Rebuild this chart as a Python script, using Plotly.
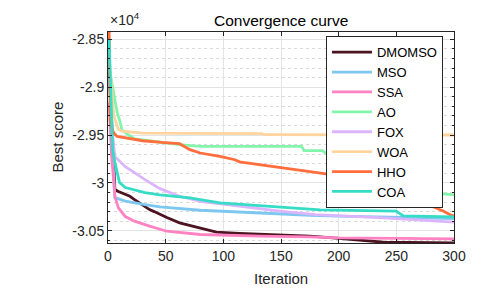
import plotly.graph_objects as go

# ---------------- data ----------------
names = ["DMOMSO", "MSO", "SSA", "AO", "FOX", "WOA", "HHO", "COA"]
colors = ["#4b1420", "#7ec8ef", "#ff82c2", "#82f5aa", "#dbb6ff", "#ffd49e", "#ff6e3c", "#36dcc6"]

dmomso_it = [1, 4, 6, 9, 19, 23, 32, 36, 40, 49, 51, 62, 80, 94, 114, 132, 149, 175, 195, 224, 239, 300]
dmomso_val = [-28800, -29500, -30070, -30090, -30140, -30174, -30247, -30279, -30300, -30352, -30362,
              -30417, -30469, -30515, -30529, -30536, -30546, -30557, -30574, -30609, -30620, -30628]

mso_it = [1, 3, 6, 15, 32, 45, 80, 114, 149, 175, 200, 239, 300]
mso_val = [-28600, -29500, -30154, -30190, -30226, -30251, -30286, -30307, -30324, -30338, -30348, -30360, -30372]

ssa_it = [1, 3, 6, 9, 15, 23, 36, 51, 80, 132, 175, 200, 300]
ssa_val = [-29160, -29700, -30143, -30261, -30352, -30400, -30452, -30505, -30539, -30557, -30563, -30574, -30585]

ao_it = [1, 4, 8, 10, 12, 15, 23, 49, 62, 80, 168, 170, 186, 200, 218, 227, 239, 250, 268, 285, 300]
ao_val = [-28790, -29000, -29270, -29341, -29445, -29476, -29540, -29580, -29601, -29619, -29619, -29664,
          -29664, -29800, -29990, -30010, -30040, -30060, -30088, -30110, -30125]

fox_it = [1, 4, 6, 15, 23, 32, 45, 62, 80, 114, 149, 180, 239, 300]
fox_val = [-28900, -29500, -29726, -29831, -29893, -29966, -30060, -30140, -30192, -30244, -30296, -30331, -30365, -30410]

woa_it = [1, 5, 9, 12, 30, 133, 136, 300]
woa_val = [-28700, -29300, -29440, -29460, -29480, -29485, -29497, -29500]

hho_it = [1, 2, 3, 5, 8, 15, 30, 49, 62, 71, 80, 97, 110, 114, 132, 145, 160, 175, 184, 200, 212, 218,
          224, 236, 244, 249, 252, 259, 263, 270, 282, 291, 297, 300]
hho_val = [-28424, -29350, -29420, -29480, -29515, -29530, -29560, -29580, -29591, -29653, -29688, -29723,
           -29758, -29780, -29810, -29827, -29855, -29880, -29896, -29925, -29960, -30001, -30018, -30053,
           -30090, -30125, -30170, -30192, -30200, -30215, -30250, -30296, -30335, -30345]

coa_it = [1, 4, 6, 10, 15, 32, 45, 71, 97, 132, 160, 184, 250, 256, 300]
coa_val = [-28500, -29654, -29789, -29997, -30049, -30101, -30125, -30157, -30209, -30237, -30261, -30283,
           -30296, -30345, -30355]

series_it = [dmomso_it, mso_it, ssa_it, ao_it, fox_it, woa_it, hho_it, coa_it]
series_val = [dmomso_val, mso_val, ssa_val, ao_val, fox_val, woa_val, hho_val, coa_val]

x_ticks = [0, 50, 100, 150, 200, 250, 300]
y_tickvals = [-28500, -29000, -29500, -30000, -30500]
y_ticktext = ["-2.85", "-2.9", "-2.95", "-3", "-3.05"]
y_range = [-30628, -28424]
x_range = [0, 300]

title_text = "Convergence curve"
x_title = "Iteration"
y_title = "Best score"
exponent_text = "×10<sup>4</sup>"

# ---------------- figure ----------------
FONT = "Liberation Sans, Arial, Helvetica, sans-serif"
AX = "#262626"

fig = go.Figure()
for nm, col, xs, ys in zip(names, colors, series_it, series_val):
    fig.add_trace(go.Scatter(x=xs, y=ys, mode="lines", name=nm,
                             line=dict(color=col, width=2.8)))

fig.update_layout(
    width=502, height=297,
    margin=dict(l=108, r=48, t=32, b=54),
    paper_bgcolor="white", plot_bgcolor="white",
    font=dict(family=FONT, size=14, color=AX),
    showlegend=True,
    legend=dict(
        x=0.630, y=0.98, xanchor="left", yanchor="top",
        bgcolor="white", bordercolor="#262626", borderwidth=1,
        font=dict(family=FONT, size=13, color="black"),
        tracegroupgap=0, itemwidth=40,
    ),
)

fig.update_xaxes(
    range=x_range, tickvals=x_ticks, ticks="inside", ticklen=4, tickcolor=AX,
    showline=True, linecolor=AX, linewidth=1, mirror="ticks",
    showgrid=True, gridcolor="#e3e3e3", gridwidth=1, zeroline=False,
    tickfont=dict(size=14, color=AX),
)
fig.update_yaxes(
    range=y_range, tickvals=y_tickvals, ticktext=y_ticktext, ticks="inside", ticklen=4, tickcolor=AX,
    showline=True, linecolor=AX, linewidth=1, mirror="ticks",
    showgrid=True, gridcolor="#e3e3e3", gridwidth=1, zeroline=False,
    tickfont=dict(size=14, color=AX),
    minor=dict(dtick=100, tick0=-28500, ticks="inside", ticklen=2, tickcolor=AX,
               showgrid=True, gridcolor="#dadada", griddash="dot", gridwidth=1),
)

# title, axis titles, exponent label
fig.add_annotation(text=title_text, xref="paper", yref="paper", x=0.5, y=1.0, yshift=12,
                   xanchor="center", yanchor="middle", showarrow=False,
                   font=dict(family=FONT, size=15.5, color="black"))
fig.add_annotation(text=x_title, xref="paper", yref="paper", x=0.5, y=0, yshift=-35,
                   xanchor="center", yanchor="middle", showarrow=False,
                   font=dict(family=FONT, size=15, color=AX))
fig.add_annotation(text=y_title, xref="paper", yref="paper", x=0, y=0.5, xshift=-51,
                   xanchor="center", yanchor="middle", textangle=-90, showarrow=False,
                   font=dict(family=FONT, size=15, color=AX))
fig.add_annotation(text=exponent_text, xref="paper", yref="paper", x=0, y=1.0, yshift=13,
                   xanchor="left", yanchor="middle", showarrow=False,
                   font=dict(family=FONT, size=14, color=AX))

fig.write_html("out.html",
               config={"displayModeBar": False},
               post_script="document.body.style.margin='0';document.body.style.padding='0';")
